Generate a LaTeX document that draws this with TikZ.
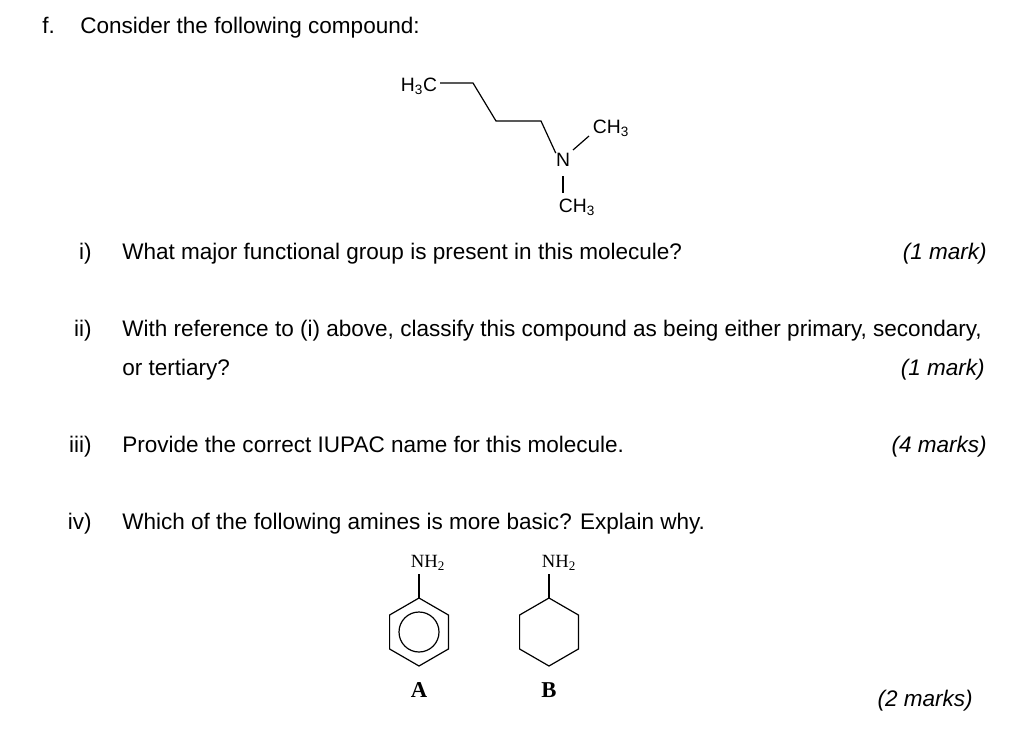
\documentclass[tikz,border=0pt]{standalone}
\usepackage{fontspec}
\setmainfont{Liberation Sans}
\newfontfamily\serifchem{Liberation Serif}
\begin{document}
\begin{tikzpicture}[x=0.75pt,y=-0.75pt,
  txt/.style={anchor=base west,inner sep=0pt,font=\fontsize{16.9}{20}\selectfont},
  num/.style={anchor=base east,inner sep=0pt,font=\fontsize{16.9}{20}\selectfont},
  mk/.style={anchor=base east,inner sep=0pt,font=\fontsize{16.9}{20}\selectfont\itshape},
  chem/.style={inner sep=0pt,font=\fontsize{14.5}{17}\selectfont},
  schem/.style={inner sep=0pt,font=\fontsize{14}{16}\serifchem},
  bond/.style={line width=0.9pt}]
\useasboundingbox (0,0) rectangle (1024,735);
\node[txt] (f) at (42,34) {f.};
\node[txt] (q) at (80,34) {Consider the following compound:};
% compound
\node[chem] (h3c) at (419,86) {H\textsubscript{3}C};
\coordinate (c1) at (440,83);
\coordinate (c2) at (473,83);
\coordinate (c3) at (496,121);
\coordinate (c4) at (541,121);
\node[chem] (n) at (563,160) {N};
\node[chem] (me1) at (611,128) {CH\textsubscript{3}};
\node[chem] (me2) at (577,207) {CH\textsubscript{3}};
\draw[bond] (c1) -- (c2) -- (c3) -- (c4) -- (n.north west);
\draw[bond] (573,150) -- (589,136);
\draw[bond] (563,176) -- (563,193);
% questions
\node[num] (i) at (92,259) {i)};
\node[txt] (it) at (122,259) {What major functional group is present in this molecule?};
\node[mk] (im) at (987,259) {(1 mark)};
\node[num] (ii) at (92,336) {ii)};
\node[txt] (iit) at (122,336) {With reference to (i) above, classify this compound as being either primary, secondary,};
\node[txt] (iit2) at (122,375) {or tertiary?};
\node[mk] (iim) at (985,375) {(1 mark)};
\node[num] (iii) at (92,452) {iii)};
\node[txt] (iiit) at (122,452) {Provide the correct IUPAC name for this molecule.};
\node[mk] (iiim) at (987,452) {(4 marks)};
\node[num] (iv) at (92,529) {iv)};
\node[txt] (ivt) at (122,529) {Which of the following amines is more basic? Explain why.};
\node[mk] (ivm) at (973,706) {(2 marks)};
% ring A
\node[schem] (nha) at (428,563) {NH\textsubscript{2}};
\draw[bond] (419,574) -- (419,598);
\draw[bond] (419,598) -- (448.4,615) -- (448.4,649) -- (419,666) -- (389.6,649) -- (389.6,615) -- cycle;
\draw[bond] (419,632) circle (20);
\node[schem,font=\fontsize{17}{19}\serifchem\bfseries] (la) at (419,690) {A};
% ring B
\node[schem] (nhb) at (559,563) {NH\textsubscript{2}};
\draw[bond] (549,574) -- (549,598);
\draw[bond] (549,598) -- (578.4,615) -- (578.4,649) -- (549,666) -- (519.6,649) -- (519.6,615) -- cycle;
\node[schem,font=\fontsize{17}{19}\serifchem\bfseries] (lb) at (549,690) {B};
\end{tikzpicture}
\end{document}
